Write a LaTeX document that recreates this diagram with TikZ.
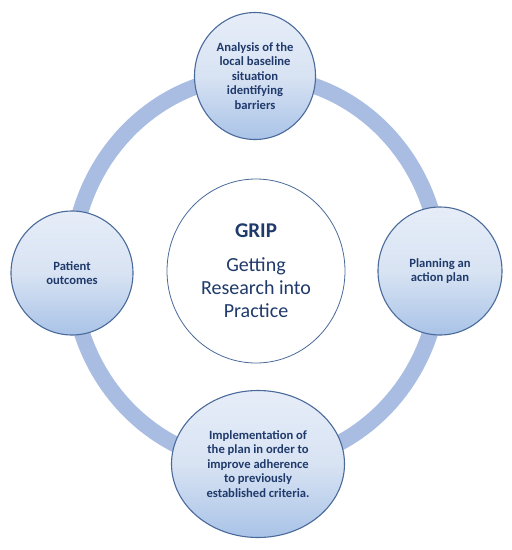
\documentclass[tikz,border=0pt]{standalone}
\usepackage{fontspec}
\setmainfont{Carlito}
\usetikzlibrary{shapes.geometric}
\definecolor{ringblue}{HTML}{A9BDE3}
\definecolor{edgeblue}{HTML}{4A6A9A}
\definecolor{navy}{HTML}{1F3A6B}
\definecolor{filltop}{HTML}{E6EDF8}
\definecolor{fillmid}{HTML}{D8E3F3}
\definecolor{fillbot}{HTML}{A9C3E7}
\tikzset{
  stagebox/.style={ellipse, draw=edgeblue, line width=1.1pt,
    top color=filltop, bottom color=fillbot, middle color=fillmid,
    inner sep=0pt, align=center, text=navy,
    font=\bfseries\fontsize{12.6}{14.4}\selectfont},
  hubbox/.style={ellipse, draw=edgeblue, line width=0.8pt, fill=white,
    inner sep=0pt, align=center, text=navy,
    font=\fontsize{20}{23}\selectfont},
  ringline/.style={draw=ringblue, line width=16pt}
}
\begin{document}
\begin{tikzpicture}[x=1pt,y=-1pt]
\useasboundingbox (0,0) rectangle (512,550);
\coordinate (ringc) at (256,270);
\draw[ringline] (ringc) ellipse [x radius=184, y radius=194];
\node[stagebox, minimum width=121pt, minimum height=127pt] (analysis) at (255,76)
  {Analysis of the\\local baseline\\situation\\identifying\\barriers};
\node[stagebox, minimum width=122pt, minimum height=124pt] (patient) at (72,273)
  {Patient\\outcomes};
\node[stagebox, minimum width=124pt, minimum height=128pt] (planning) at (440,271)
  {Planning an\\action plan};
\node[stagebox, minimum width=173pt, minimum height=147pt] (impl) at (258,464)
  {Implementation of\\the plan in order to\\improve adherence\\to previously\\established criteria.};
\node[hubbox, minimum width=178pt, minimum height=184pt] (grip) at (256,271)
  {{\bfseries\fontsize{21}{23}\selectfont GRIP}\\[11pt]Getting\\Research into\\Practice};
\end{tikzpicture}
\end{document}
